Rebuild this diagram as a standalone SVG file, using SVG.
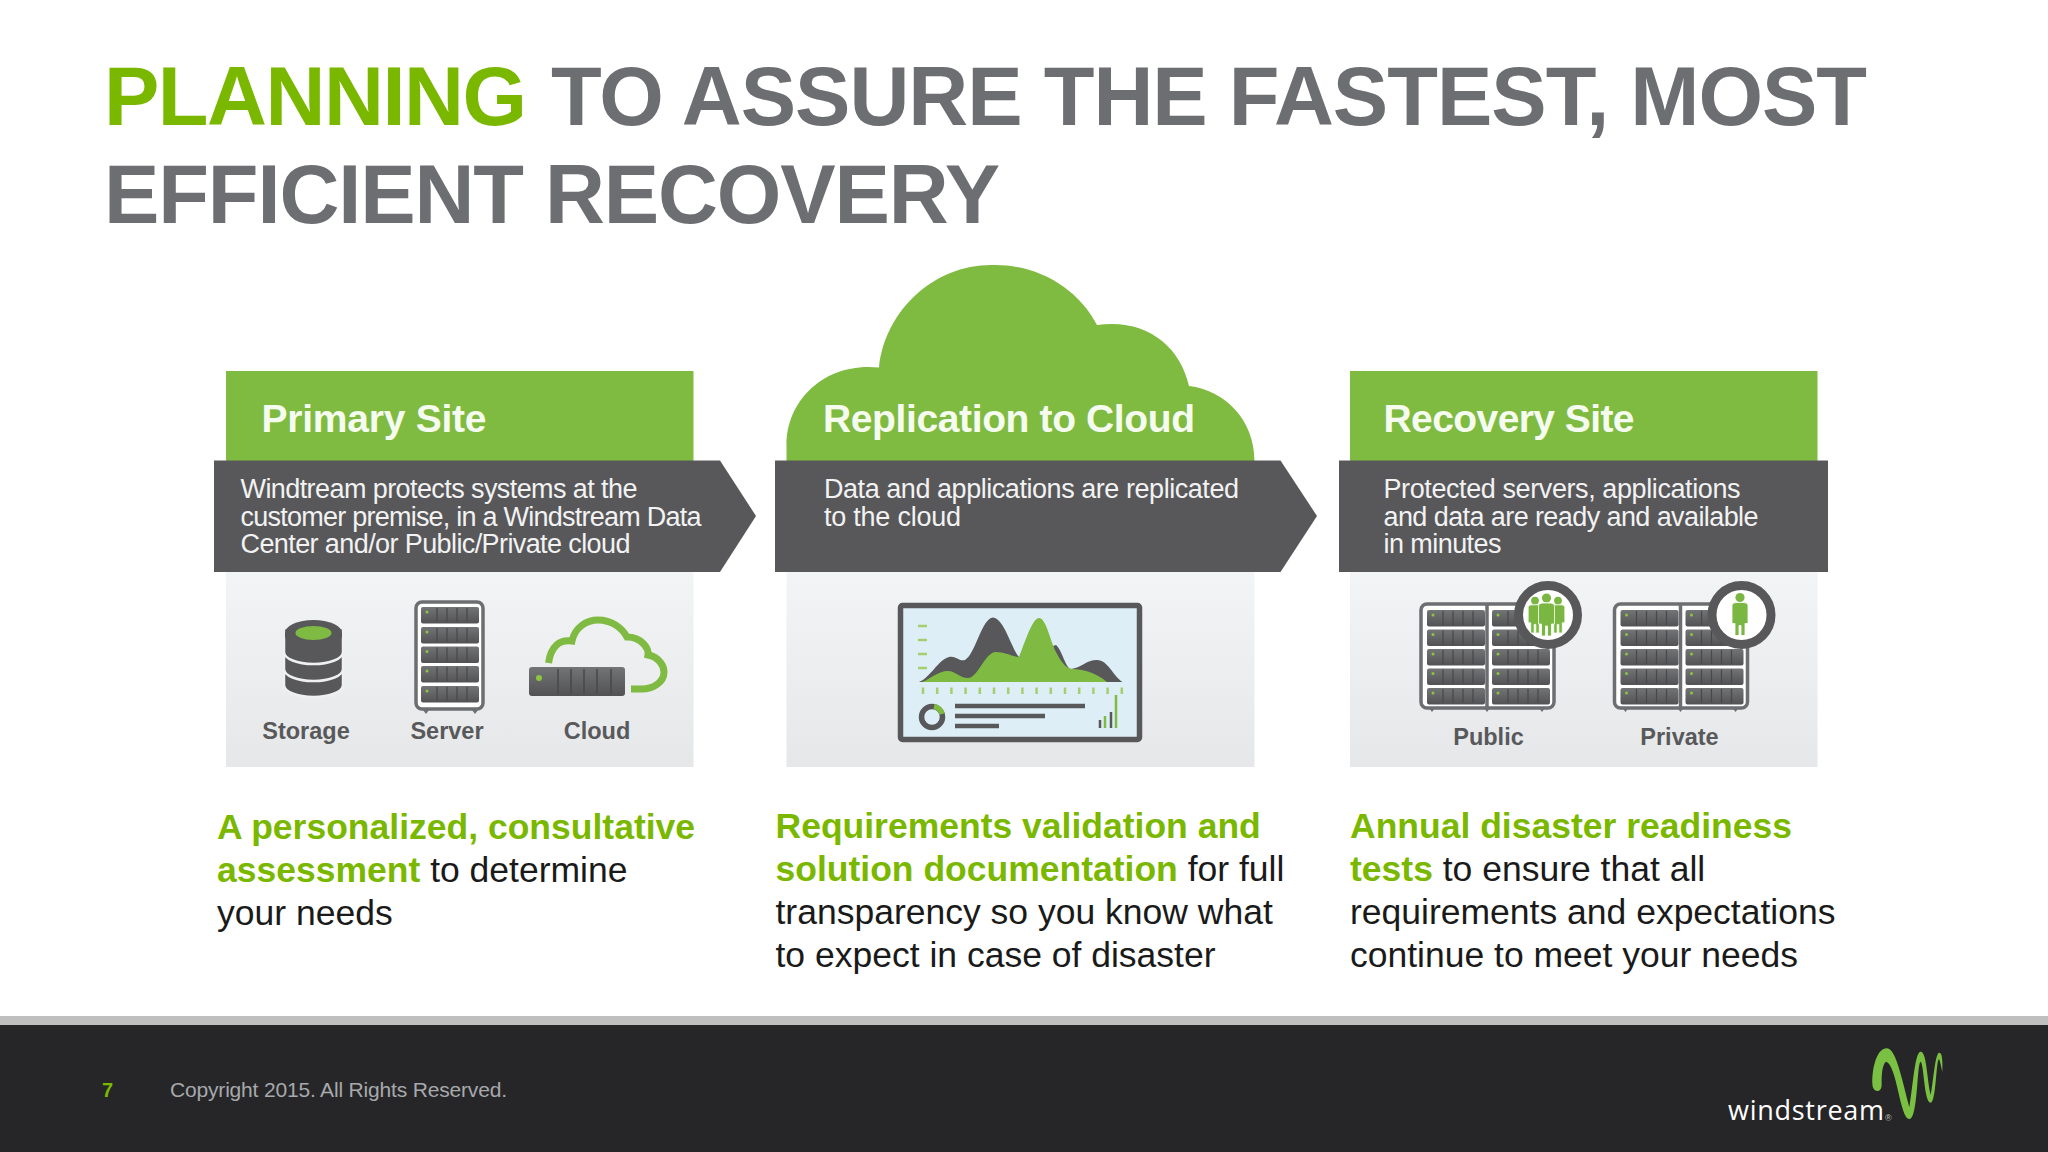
<svg xmlns="http://www.w3.org/2000/svg" xmlns:xlink="http://www.w3.org/1999/xlink" width="2048" height="1152" viewBox="0 0 2048 1152">
<style>
text{font-family:"Liberation Sans",Arial,sans-serif}
.title{font-size:83px;font-weight:700;fill:#6d6e71}
.g{fill:#7ab800;font-weight:700}
.green{fill:#80bb41}
.band{fill:#58585b}
.h{font-size:39px;font-weight:700;fill:#f6fbf0}
.d{font-size:27px;fill:#f2f2f2}
.lab{font-size:23.500px;font-weight:700;fill:#58595b;text-anchor:middle}
.body{font-size:35.500px;fill:#1a1a1a}
.ink{fill:#58585b}
.line{stroke:#58585b;stroke-width:4.5;fill:none}
</style>
<defs>
<linearGradient id="pg" x1="0" y1="0" x2="0" y2="1"><stop offset="0" stop-color="#f3f4f5"/><stop offset="1" stop-color="#e6e7e9"/></linearGradient>
<linearGradient id="sl" x1="0" y1="0" x2="0" y2="1"><stop offset="0" stop-color="#737476"/><stop offset="1" stop-color="#525255"/></linearGradient>
<symbol id="slot" overflow="visible">
<rect width="58" height="16.5" rx="2" fill="url(#sl)"/>
<path d="M16 1V15M26 1V15M36 1V15M46 1V15" stroke="#48484b" stroke-width="1.2"/>
<circle cx="6" cy="5" r="1.5" fill="#8cc63f"/>
</symbol>
<symbol id="rack" overflow="visible">
<rect x="2" y="0" width="133" height="104" rx="6" fill="#fff" stroke="#6d6e71" stroke-width="3.5"/>
<path d="M68 0V104" stroke="#6d6e71" stroke-width="3.5"/>
<path d="M2 104m8 0h6l-3 4zM65 104h6l-3 4zM120 104h6l-3 4z" fill="#6d6e71"/>
<use href="#slot" x="8" y="6"/><use href="#slot" x="8" y="25.5"/><use href="#slot" x="8" y="45"/><use href="#slot" x="8" y="64.5"/><use href="#slot" x="8" y="84"/>
<use href="#slot" x="73" y="6"/><use href="#slot" x="73" y="25.5"/><use href="#slot" x="73" y="45"/><use href="#slot" x="73" y="64.5"/><use href="#slot" x="73" y="84"/>
</symbol>
<symbol id="person" overflow="visible">
<circle r="4.6" cy="0" fill="#7ab742"/>
<path d="M-8 8Q-8 5-4 5H4Q8 5 8 8V26H5V38H1V28H-1V38H-5V26H-8Z" fill="#7ab742" stroke="#fff" stroke-width=".8"/>
</symbol>
</defs>
<rect width="2048" height="1152" fill="#fff"/>

<g id="title">
<text class="title" x="104" y="125" textLength="423"><tspan class="g" style="fill:#7ab800">PLANNING</tspan></text>
<text class="title" x="551" y="125" textLength="1316">TO ASSURE THE FASTEST, MOST</text>
<text class="title" x="104" y="223" textLength="896">EFFICIENT RECOVERY</text>
</g>

<g id="primary-site">
<rect x="226" y="572" width="467.500" height="195" fill="url(#pg)"/>
<rect class="green" x="226" y="371" width="467.500" height="90"/>
<path class="band" d="M214 460.500H720L756 516L720 572H214Z"/>
<text class="h" x="261.500" y="431.500" textLength="225">Primary Site</text>
<text class="d" x="240.500" y="498" textLength="397">Windtream protects systems at the</text>
<text class="d" x="240.500" y="526" textLength="461">customer premise, in a Windstream Data</text>
<text class="d" x="240.500" y="553" textLength="390">Center and/or Public/Private cloud</text>
<g id="storage-icon">
<g class="ink" stroke="#eef0f1" stroke-width="2.5">
<path d="M284 660V685A29.500 12 0 0 0 343 685V660Z"/>
<path d="M284 644V669A29.500 12 0 0 0 343 669V644Z"/>
<path d="M284 628V652A29.500 12 0 0 0 343 652V628Z"/>
</g>
<path class="ink" d="M285 634V636A28.500 12 0 0 0 342 636V634Z"/>
<ellipse class="ink" cx="313.500" cy="633" rx="28.500" ry="13"/>
<ellipse cx="313.500" cy="633" rx="18" ry="7" fill="#7fba42"/>
</g>
<g id="server-icon">
<rect x="416" y="602" width="67" height="107" rx="6" fill="#fff" stroke="#6d6e71" stroke-width="3.500"/>
<use href="#slot" x="421" y="607"/><use href="#slot" x="421" y="627"/><use href="#slot" x="421" y="646.500"/><use href="#slot" x="421" y="666"/><use href="#slot" x="421" y="686"/>
<path d="M423 710h6l-3 4zM472 710h6l-3 4z" fill="#6d6e71"/>
</g>
<g id="cloud-icon">
<path transform="translate(-3 1)" d="M551.500 662C554 645 563 638 575 640C578 626 590 619 601 619C615 619 625 627 630 636C645 636 652 648 651 654C662 656 667 665 667 671C667 682 655 688 645 688H634" fill="none" stroke="#7fba42" stroke-width="7"/>
<rect x="529" y="667" width="96" height="29" rx="3" fill="url(#sl)"/>
<path d="M558 669V694M571 669V694M584 669V694M597 669V694M611 669V694" stroke="#48484b" stroke-width="1.500"/>
<circle cx="539" cy="678" r="3" fill="#8cc63f"/>
</g>
<text class="lab" x="306" y="739">Storage</text>
<text class="lab" x="447" y="739">Server</text>
<text class="lab" x="597" y="739">Cloud</text>
<text class="body" x="217" y="838.500"><tspan class="g">A personalized, consultative</tspan></text>
<text class="body" x="217" y="881.500"><tspan class="g">assessment</tspan> to determine</text>
<text class="body" x="217" y="924.500">your needs</text>
</g>

<g id="replication-to-cloud">
<rect x="786.500" y="572" width="468" height="195" fill="url(#pg)"/>
<path class="green" d="M786.500 461V445C786.500 400 825 362 879 367.600C885 310 935 264 993 265C1037 264 1078 288 1097 325C1145 318 1180 345 1189 386C1225 390 1254.500 420 1254.500 461Z"/>
<path class="band" d="M775 460.500H1280.500L1317 516L1280.500 572H775Z"/>
<text class="h" x="823" y="431.500" textLength="372">Replication to Cloud</text>
<text class="d" x="824" y="498" textLength="415">Data and applications are replicated</text>
<text class="d" x="824" y="526" textLength="137">to the cloud</text>
<g id="monitor-icon">
<rect x="900.500" y="605.500" width="239" height="134" rx="2" fill="#ddeef6" stroke="#58585b" stroke-width="5.500"/>
<path class="ink" d="M919 682C930 678 938 660 949 657C955 655 960 662 965 660C975 655 982 618 993 617.600C1004 618 1012 650 1019 657L1056 645C1062 650 1066 669 1071 669C1081 668 1086 660 1097 660C1108 660 1113 676 1122.500 682Z"/>
<path d="M922 682C932 678 938 671 948 671C955 671 960 678 968 678C978 678 985 652 996 652C1006 652 1013 657 1019 657C1024 645 1032 618 1039 618C1046 618 1050 640 1056 652C1060 660 1066 669 1072 669C1082 669 1095 672 1107 682Z" fill="#7fba42"/>
<path d="M923 687.500V694M937.200 687.500V694M951.400 687.500V694M965.600 687.500V694M979.800 687.500V694M994 687.500V694M1008.200 687.500V694M1022.400 687.500V694M1036.600 687.500V694M1050.800 687.500V694M1065 687.500V694M1079.200 687.500V694M1093.400 687.500V694M1107.600 687.500V694M1121.800 687.500V694" stroke="#a5cf6e" stroke-width="2.500"/>
<path d="M918 626H927M918 640H927M918 654H927M918 668H927" stroke="#a5cf6e" stroke-width="2.500"/>
<circle cx="932" cy="717" r="10.500" fill="none" stroke="#58585b" stroke-width="5.500"/>
<path d="M934 706.500A10.500 10.500 0 0 1 942 714" fill="none" stroke="#7fba42" stroke-width="5.500"/>
<path class="line" d="M955 706H1085M955 716H1045M955 726H999"/>
<path d="M1100 720V728M1111 712V728" stroke="#58585b" stroke-width="2.500"/>
<path d="M1105 716V728M1116 695V728" stroke="#7fba42" stroke-width="2.500"/>
</g>
<text class="body" x="775.500" y="837.500"><tspan class="g">Requirements validation and</tspan></text>
<text class="body" x="775.500" y="880.500"><tspan class="g">solution documentation</tspan> for full</text>
<text class="body" x="775.500" y="923.500">transparency so you know what</text>
<text class="body" x="775.500" y="966.500">to expect in case of disaster</text>
</g>

<g id="recovery-site">
<rect x="1350" y="572" width="467.500" height="195" fill="url(#pg)"/>
<rect class="green" x="1350" y="371" width="467.500" height="90"/>
<rect class="band" x="1339" y="460.500" width="489" height="111.500"/>
<text class="h" x="1383.500" y="431.500" textLength="251">Recovery Site</text>
<text class="d" x="1383.500" y="498" textLength="357">Protected servers, applications</text>
<text class="d" x="1383.500" y="526" textLength="375">and data are ready and available</text>
<text class="d" x="1383.500" y="553" textLength="118">in minutes</text>
<use href="#rack" x="1419" y="604"/>
<use href="#rack" x="1612.500" y="604"/>
<g id="public-badge">
<circle cx="1548" cy="615" r="29.500" fill="#fff" stroke="#58585b" stroke-width="9"/>
<use href="#person" transform="translate(1535 600.600) scale(.85)"/>
<use href="#person" transform="translate(1558 600.600) scale(.85)"/>
<use href="#person" x="1546.500" y="598"/>
</g>
<g id="private-badge">
<circle cx="1741.500" cy="615" r="29.500" fill="#fff" stroke="#58585b" stroke-width="9"/>
<use href="#person" x="1740" y="597.500"/>
</g>
<text class="lab" x="1488.500" y="745">Public</text>
<text class="lab" x="1679.500" y="745">Private</text>
<text class="body" x="1350" y="837.500"><tspan class="g">Annual disaster readiness</tspan></text>
<text class="body" x="1350" y="880.500"><tspan class="g">tests</tspan> to ensure that all</text>
<text class="body" x="1350" y="923.500">requirements and expectations</text>
<text class="body" x="1350" y="966.500">continue to meet your needs</text>
</g>

<g id="footer">
<rect y="1016" width="2048" height="10" fill="#bfbfc0"/>
<rect y="1025" width="2048" height="127" fill="#262628"/>
<text x="102" y="1097" font-size="20" font-weight="700" fill="#7ab800">7</text>
<text x="170" y="1097" font-size="21" fill="#a7a9ac" textLength="337">Copyright 2015. All Rights Reserved.</text>
<g id="logo">
<path transform="translate(1700 1020) scale(.3333)" d="M517 190C517 130 535 85 560 85C585 85 600 150 628 262C640 190 645 95 662 95C680 95 680 170 692 225C700 190 705 98 718 98C728 98 728 130 727 155C722 135 720 118 716 118C708 130 708 248 692 248C672 248 672 130 662 125C650 130 655 297 628 297C600 297 590 130 558 125C545 135 545 170 545 195C545 220 517 220 517 190Z" fill="#7ac143"/>
<text x="1728" y="1120" font-size="27" font-weight="400" fill="#fff" textLength="156" style='font-family:"Open Sans",sans-serif'>windstream</text>
<text x="1885" y="1121" font-size="9" fill="#bbb">®</text>
</g>
</g>
</svg>
